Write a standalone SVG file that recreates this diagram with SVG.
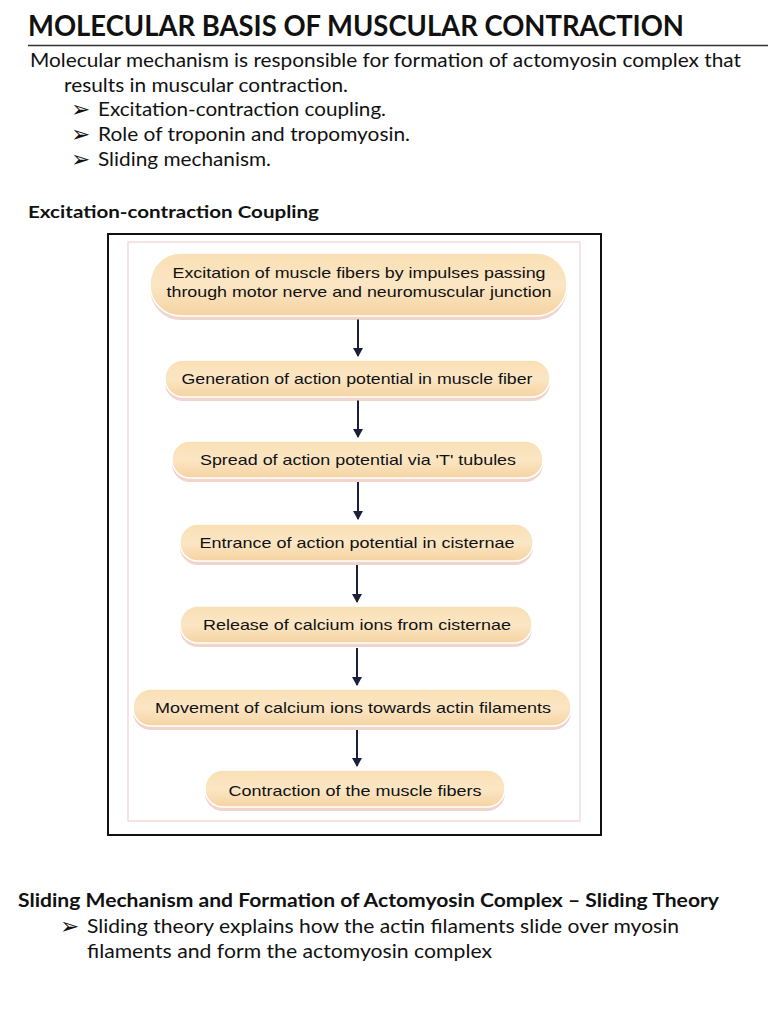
<svg xmlns="http://www.w3.org/2000/svg" width="768" height="1024" viewBox="0 0 768 1024">
<style>
.cal{font-family:Lato,"Open Sans","Liberation Sans",sans-serif;fill:#111}
.h{font-weight:bold}
.bul{font-family:"DejaVu Sans",sans-serif;fill:#111;font-size:23px}
.bx{font-family:"Liberation Sans",Arial,sans-serif;font-size:15px;fill:#111;text-anchor:middle}
.pill{fill:url(#pg);stroke:#fff;stroke-width:1.5}
.sh{fill:#e8b8a8;opacity:0.6}
.conn{stroke:#1a1f3a;stroke-width:2;fill:none;marker-end:url(#ah)}
</style>
<defs>
<linearGradient id="pg" x1="0" y1="0" x2="0" y2="1">
<stop offset="0" stop-color="#f9dfb4"/>
<stop offset="0.5" stop-color="#fbe6c4"/>
<stop offset="1" stop-color="#f5d3a2"/>
</linearGradient>
<marker id="ah" markerWidth="10" markerHeight="10" refX="8" refY="5" orient="auto" markerUnits="userSpaceOnUse">
<path d="M0,0 L9,5 L0,10 Z" fill="#1a1f3a"/>
</marker>
</defs>
<rect width="768" height="1024" fill="#fff"/>
<text class="cal h" x="28" y="36" font-size="28" textLength="656" lengthAdjust="spacingAndGlyphs">MOLECULAR BASIS OF MUSCULAR CONTRACTION</text>
<line x1="28" y1="45.5" x2="768" y2="45.5" stroke="#333" stroke-width="1.5"/>
<text class="cal" x="30" y="67" font-size="19" textLength="711" lengthAdjust="spacingAndGlyphs">Molecular mechanism is responsible for formation of actomyosin complex that</text>
<text class="cal" x="64" y="92" font-size="19" textLength="284" lengthAdjust="spacingAndGlyphs">results in muscular contraction.</text>
<text class="bul" x="71" y="117">➢</text>
<text class="cal" x="98" y="116" font-size="19" textLength="288" lengthAdjust="spacingAndGlyphs">Excitation-contraction coupling.</text>
<text class="bul" x="71" y="142">➢</text>
<text class="cal" x="98" y="141" font-size="19" textLength="312" lengthAdjust="spacingAndGlyphs">Role of troponin and tropomyosin.</text>
<text class="bul" x="71" y="167">➢</text>
<text class="cal" x="98" y="166" font-size="19" textLength="173" lengthAdjust="spacingAndGlyphs">Sliding mechanism.</text>
<text class="cal h" x="28" y="218" font-size="17" textLength="291" lengthAdjust="spacingAndGlyphs">Excitation-contraction Coupling</text>

<rect x="108" y="234" width="493" height="601" fill="#fff" stroke="#111" stroke-width="2"/>
<rect x="128" y="242" width="452" height="579" fill="#fff" stroke="#f0c8c8" stroke-width="1"/>

<g id="connectors">
<line class="conn" x1="358" y1="319" x2="358" y2="356"/>
<line class="conn" x1="358" y1="400" x2="358" y2="437"/>
<line class="conn" x1="358" y1="482" x2="358" y2="519"/>
<line class="conn" x1="357" y1="565" x2="357" y2="602"/>
<line class="conn" x1="357" y1="648" x2="357" y2="685"/>
<line class="conn" x1="357" y1="730" x2="357" y2="766"/>
</g>

<g id="n1">
<rect class="sh" x="150" y="257" width="417" height="63" rx="31"/>
<rect class="pill" x="150" y="253" width="417" height="63" rx="31"/>
<text class="bx" x="359" y="278" textLength="373" lengthAdjust="spacingAndGlyphs">Excitation of muscle fibers by impulses passing</text>
<text class="bx" x="359" y="297" textLength="385" lengthAdjust="spacingAndGlyphs">through motor nerve and neuromuscular junction</text>
</g>
<g id="n2">
<rect class="sh" x="165" y="364" width="385" height="37" rx="18"/>
<rect class="pill" x="165" y="360" width="385" height="37" rx="18"/>
<text class="bx" x="357" y="384" textLength="351" lengthAdjust="spacingAndGlyphs">Generation of action potential in muscle fiber</text>
</g>
<g id="n3">
<rect class="sh" x="172" y="445" width="371" height="37" rx="18"/>
<rect class="pill" x="172" y="441" width="371" height="37" rx="18"/>
<text class="bx" x="358" y="465" textLength="316" lengthAdjust="spacingAndGlyphs">Spread of action potential via 'T' tubules</text>
</g>
<g id="n4">
<rect class="sh" x="180" y="528" width="353" height="37" rx="18"/>
<rect class="pill" x="180" y="524" width="353" height="37" rx="18"/>
<text class="bx" x="357" y="548" textLength="315" lengthAdjust="spacingAndGlyphs">Entrance of action potential in cisternae</text>
</g>
<g id="n5">
<rect class="sh" x="180" y="610" width="352" height="37" rx="18"/>
<rect class="pill" x="180" y="606" width="352" height="37" rx="18"/>
<text class="bx" x="357" y="630" textLength="308" lengthAdjust="spacingAndGlyphs">Release of calcium ions from cisternae</text>
</g>
<g id="n6">
<rect class="sh" x="133" y="693" width="438" height="37" rx="18"/>
<rect class="pill" x="133" y="689" width="438" height="37" rx="18"/>
<text class="bx" x="353" y="713" textLength="396" lengthAdjust="spacingAndGlyphs">Movement of calcium ions towards actin filaments</text>
</g>
<g id="n7">
<rect class="sh" x="205" y="774" width="300" height="37" rx="18"/>
<rect class="pill" x="205" y="770" width="300" height="37" rx="18"/>
<text class="bx" x="355" y="796" textLength="253" lengthAdjust="spacingAndGlyphs">Contraction of the muscle fibers</text>
</g>

<text class="cal h" x="18" y="907" font-size="19" textLength="701" lengthAdjust="spacingAndGlyphs">Sliding Mechanism and Formation of Actomyosin Complex – Sliding Theory</text>
<text class="bul" x="60" y="934">➢</text>
<text class="cal" x="87" y="933" font-size="19" textLength="592" lengthAdjust="spacingAndGlyphs">Sliding theory explains how the actin filaments slide over myosin</text>
<text class="cal" x="87" y="958" font-size="19" textLength="405" lengthAdjust="spacingAndGlyphs">filaments and form the actomyosin complex</text>
</svg>
